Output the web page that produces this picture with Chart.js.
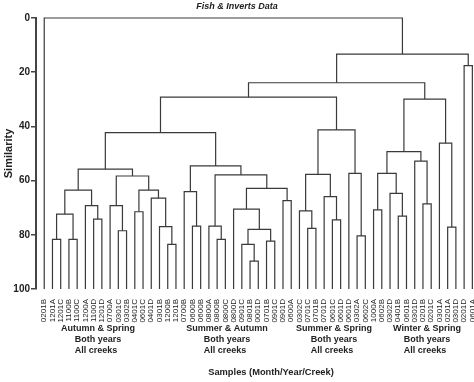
<!DOCTYPE html>
<html><head><meta charset="utf-8">
<script src="https://cdn.jsdelivr.net/npm/chart.js@4.4.1/dist/chart.umd.min.js"></script>
<style>html,body{margin:0;padding:0;background:#fff;}#wrap{width:474px;height:382px;}</style>
</head><body><div id="wrap"><canvas id="c" width="474" height="382"></canvas></div>
<script>
// ---- data ----
const leafLabels = [
  '0201B','1201A','1201C','1100B','1100C','1200A','1100D','1201D','0700A','0301C',
  '0302B','0401C','0601C','0401D','0301B','1200B','1201B','0700B','0600B','0600B',
  '0800A','0800B','0800C','0800D','0901C','0801B','0001D','0701B','0901C','0901D',
  '0600A','0302C','0701C','0701B','0701D','0601C','0601D','0601D','0302A','0602C',
  '1000A','0602B','0302D','0401B','0601B','0301D','0201B','0201C','0301A','0201A',
  '0301D','0201D','0601A'
];
// merges: [node id, left child, right child, similarity]; numbers = leaf index
const merges = [
  ['n1',1,2,81.7],['n2',3,4,81.7],['n3','n1','n2',72.4],['n4',6,7,74.2],['n5',5,'n4',69.2],
  ['n6','n3','n5',63.5],['n7',9,10,78.5],['n8',8,'n7',69.2],['n9',11,12,71.5],['n10',15,16,83.5],
  ['n11',14,'n10',77],['n12',13,'n11',66.5],['n13','n9','n12',63.5],['n14','n8','n13',58.3],
  ['A','n6','n14',55.8],
  ['b1',18,19,76.8],['b2',17,'b1',64.1],['b3',21,22,81.7],['b4',20,'b3',76.8],['b5',25,26,89.7],
  ['b6',24,'b5',83.5],['b7',27,28,82.3],['b8','b6','b7',78],['b9',23,'b8',70.5],['b10',29,30,67.4],
  ['b11','b9','b10',62.9],['b12','b4','b11',57.9],['B','b2','b12',54.6],
  ['AB','A','B',42.3],
  ['c1',32,33,77.6],['c2',31,'c1',71.2],['c3',35,36,74.5],['c4',34,'c3',65.9],['c5','c2','c4',57.7],
  ['c6',38,39,80.4],['c7',37,'c6',57.3],['C','c5','c7',41.3],
  ['ABC','AB','C',29.2],
  ['d1',40,41,70.8],['d2',43,44,73.1],['d3',42,'d2',64.7],['d4','d1','d3',57.3],['d5',46,47,68.6],
  ['d6',45,'d5',52.8],['d7','d4','d6',49.3],['d8',49,50,77.2],['d9',48,'d8',46.2],['D','d7','d9',29.9],
  ['ABCD','ABC','D',23.9],['E',51,52,17.6],['F','ABCD','E',13.3],['root',0,'F',0]
];
const yTicks = [0,20,40,60,80,100];
const groupNames = ['Autumn & Spring','Summer & Autumn','Summer & Spring','Winter & Spring'];
const groupSub = ['Both years','All creeks'];
const chartTitle = 'Fish & Inverts Data';
const xTitle = 'Samples (Month/Year/Creek)';
const yTitle = 'Similarity';

// ---- build link datasets ----
const nodeX = {}, nodeY = {};
const gx = id => typeof id === 'number' ? id : nodeX[id];
const gy = id => typeof id === 'number' ? 100 : nodeY[id];
const LINE = '#3a3a3a';
const datasets = merges.map(([id,a,b,s]) => {
  const xa = gx(a), xb = gx(b);
  nodeX[id] = (xa + xb) / 2; nodeY[id] = s;
  return {
    data: [{x:xa,y:gy(a)},{x:xa,y:s},{x:xb,y:s},{x:xb,y:gy(b)}],
    showLine: true, borderColor: LINE, borderWidth: 1.2, pointRadius: 0,
    tension: 0, fill: false, clip: false
  };
});

const FAM = '"Liberation Sans", Arial, Helvetica, sans-serif';
Chart.defaults.font.family = FAM;
Chart.defaults.color = '#222';

const textPlugin = {
  id: 'groupText',
  afterDraw(chart) {
    const ctx = chart.ctx;
    const centers = [98, 227, 334, 427]; // label anchor x positions (px)
    ctx.save();
    ctx.fillStyle = '#222';
    ctx.textBaseline = 'middle';
    ctx.font = 'bold 9px ' + FAM;
    groupNames.forEach((name, i) => {
      const cx = centers[i];
      ctx.textAlign = 'center';
      ctx.fillText(name, cx, 329);
      const w2 = ctx.measureText(groupSub[0]).width;
      ctx.fillText(groupSub[0], cx, 340);
      ctx.textAlign = 'left';
      ctx.fillText(groupSub[1], cx - w2 / 2, 351);
    });
    ctx.font = 'bold 9.3px ' + FAM;
    ctx.textAlign = 'center';
    ctx.fillText(xTitle, 271, 372);
    ctx.restore();
  }
};

new Chart(document.getElementById('c'), {
  type: 'scatter',
  data: { datasets },
  plugins: [textPlugin],
  options: {
    responsive: false, animation: false, devicePixelRatio: 1,
    layout: { padding: 0 },
    plugins: {
      legend: { display: false }, tooltip: { enabled: false },
      title: { display: true, text: chartTitle, color: '#222',
        font: { size: 9, weight: 'bold', style: 'italic' }, padding: { top: 1, bottom: 6.2 } }
    },
    scales: {
      x: {
        type: 'linear', min: -1, max: 52.2,
        afterBuildTicks: s => { s.ticks = leafLabels.map((_, i) => ({ value: i })); },
        afterFit: s => { s.height = 93; s.paddingLeft = 0; s.paddingRight = 0; },
        ticks: { autoSkip: false, maxRotation: 90, minRotation: 90, padding: 2,
          font: { size: 8 }, color: '#222', callback: v => leafLabels[v] },
        grid: { display: false }, border: { display: false }
      },
      y: {
        type: 'linear', reverse: true, min: 0, max: 100,
        afterBuildTicks: s => { s.ticks = yTicks.map(v => ({ value: v })); },
        afterFit: s => { s.width = 36; s.paddingTop = 0; s.paddingBottom = 0; },
        ticks: { font: { size: 10, weight: 'bold' }, padding: 1, color: '#222' },
        grid: { drawOnChartArea: false, drawTicks: true, tickLength: 5, color: '#444', lineWidth: 1.5 },
        border: { display: true, color: '#444', width: 2 },
        title: { display: true, text: yTitle, font: { size: 11, weight: 'bold' }, padding: { top: 2, bottom: 0 } }
      }
    }
  }
});
</script></body></html>
